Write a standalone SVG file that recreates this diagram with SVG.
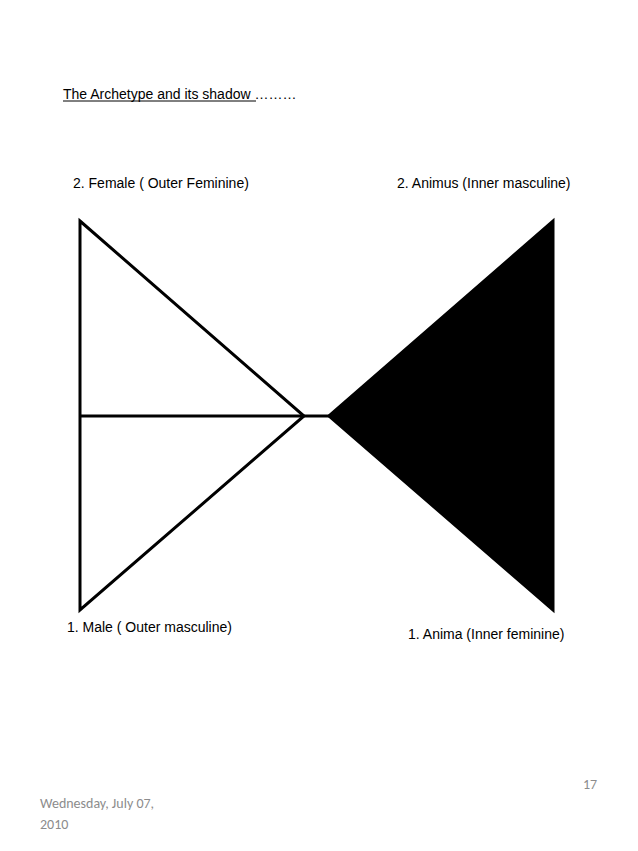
<svg xmlns="http://www.w3.org/2000/svg" width="638" height="851" viewBox="0 0 638 851">
<style>
.t{font-family:"Liberation Sans",Arial,sans-serif;font-size:14px;fill:#000}
.f{font-family:Carlito,"Liberation Sans",sans-serif;font-size:14px;fill:#8c8c8c}
.ln{stroke:#000;stroke-width:3;fill:none}
</style>
<rect width="638" height="851" fill="#fff"/>
<g id="title"><text class="t" x="63" y="99">The Archetype and its shadow <tspan>………</tspan></text><line x1="63" y1="101" x2="256" y2="101" stroke="#000" stroke-width="1"/></g>
<g id="female"><text class="t" x="73" y="188">2. Female ( Outer Feminine)</text></g>
<g id="animus"><text class="t" x="397" y="188">2. Animus (Inner masculine)</text></g>
<g id="male"><text class="t" x="67" y="632">1. Male ( Outer masculine)</text></g>
<g id="anima"><text class="t" x="408" y="639">1. Anima (Inner feminine)</text></g>
<g id="left"><polygon class="ln" points="80,221 304,416 80,610" stroke-linejoin="miter"/><line class="ln" x1="80" y1="416" x2="304" y2="416"/></g>
<g id="connectors"><line class="ln" x1="304" y1="416" x2="330" y2="416"/></g>
<g id="right"><polygon points="329,416 553,221 553,610" fill="#000" stroke="#000" stroke-width="3"/></g>
<g id="footer"><text class="f" x="40" y="808">Wednesday, July 07,</text><text class="f" x="40" y="829">2010</text><text class="f" x="583" y="789">17</text></g>
</svg>
